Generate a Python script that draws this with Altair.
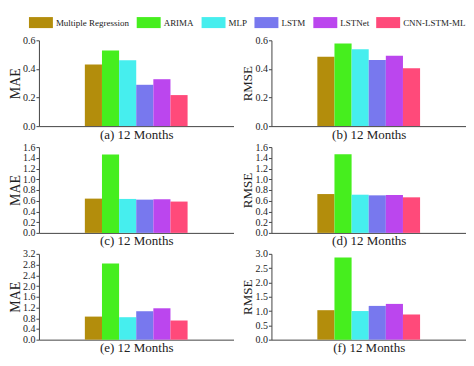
import altair as alt
import pandas as pd

models = ["Multiple Regression", "ARIMA", "MLP", "LSTM", "LSTNet", "CNN-LSTM-ML"]
colors = ["#B38D0C", "#46EE1E", "#46EEEE", "#7878EE", "#BB46EE", "#FF4A7A"]

mae_a = [0.43, 0.529, 0.46, 0.289, 0.328, 0.217]
rmse_b = [0.485, 0.577, 0.538, 0.462, 0.492, 0.405]
mae_c = [0.639, 1.46, 0.633, 0.62, 0.627, 0.584]
rmse_d = [0.724, 1.466, 0.712, 0.70, 0.706, 0.663]
mae_e = [0.86, 2.84, 0.837, 1.06, 1.17, 0.714]
rmse_f = [1.03, 2.87, 1.00, 1.18, 1.25, 0.88]

titles_x = ["(a) 12 Months", "(b) 12 Months", "(c) 12 Months",
            "(d) 12 Months", "(e) 12 Months", "(f) 12 Months"]

FONT = "Liberation Serif"


def panel(vals, ytitle, xtitle, ymax, step, ytsize):
    df = pd.DataFrame({"model": models, "value": vals, "period": "12 Months"})
    n = int(round(ymax / step))
    ticks = [round(i * step, 2) for i in range(n + 1)]
    return alt.Chart(df).mark_bar().encode(
        x=alt.X("period:N",
                scale=alt.Scale(paddingInner=0, paddingOuter=0.447),
                axis=alt.Axis(title=xtitle, labels=False, ticks=False,
                              titleFontSize=13, titlePadding=2,
                              titleFontWeight="normal", titleFont=FONT,
                              titleColor="#222", domainColor="#444")),
        xOffset=alt.XOffset("model:N", sort=models,
                            scale=alt.Scale(paddingInner=0, paddingOuter=0)),
        y=alt.Y("value:Q", scale=alt.Scale(domain=[0, ymax], nice=False),
                axis=alt.Axis(title=ytitle, values=ticks, format=".1f",
                              grid=False, tickSize=3, labelPadding=1,
                              labelFontSize=10,
                              labelFont=FONT, titleFont=FONT,
                              titleFontSize=ytsize, titleFontWeight="normal",
                              titleColor="#222",
                              titlePadding=0, domainColor="#444",
                              tickColor="#444", labelColor="#222")),
        color=alt.Color("model:N", sort=models,
                        scale=alt.Scale(domain=models, range=colors),
                        legend=alt.Legend(title=None, orient="none",
                                          direction="horizontal",
                                          legendX=-10, legendY=-30,
                                          symbolType="M-1,-0.46H1V0.46H-1Z",
                                          symbolSize=576, symbolStrokeWidth=0,
                                          symbolOpacity=1,
                                          labelFont=FONT, labelFontSize=9,
                                          labelOffset=3, columnPadding=7,
                                          labelColor="#222")),
    ).properties(width=195, height=86)


row1 = alt.hconcat(panel(mae_a, "MAE", titles_x[0], 0.6, 0.2, 14),
                   panel(rmse_b, "RMSE", titles_x[1], 0.6, 0.2, 13), spacing=8)
row2 = alt.hconcat(panel(mae_c, "MAE", titles_x[2], 1.6, 0.2, 14),
                   panel(rmse_d, "RMSE", titles_x[3], 1.6, 0.2, 13), spacing=8)
row3 = alt.hconcat(panel(mae_e, "MAE", titles_x[4], 3.2, 0.4, 14),
                   panel(rmse_f, "RMSE", titles_x[5], 3.0, 0.5, 13), spacing=8)

chart = alt.vconcat(row1, row2, row3, spacing=1).properties(
    padding={"left": 0, "top": 2, "right": 0, "bottom": 0},
    background="white",
).configure_view(stroke=None)

chart.save("out.html", embed_options={"renderer": "svg", "actions": False})
